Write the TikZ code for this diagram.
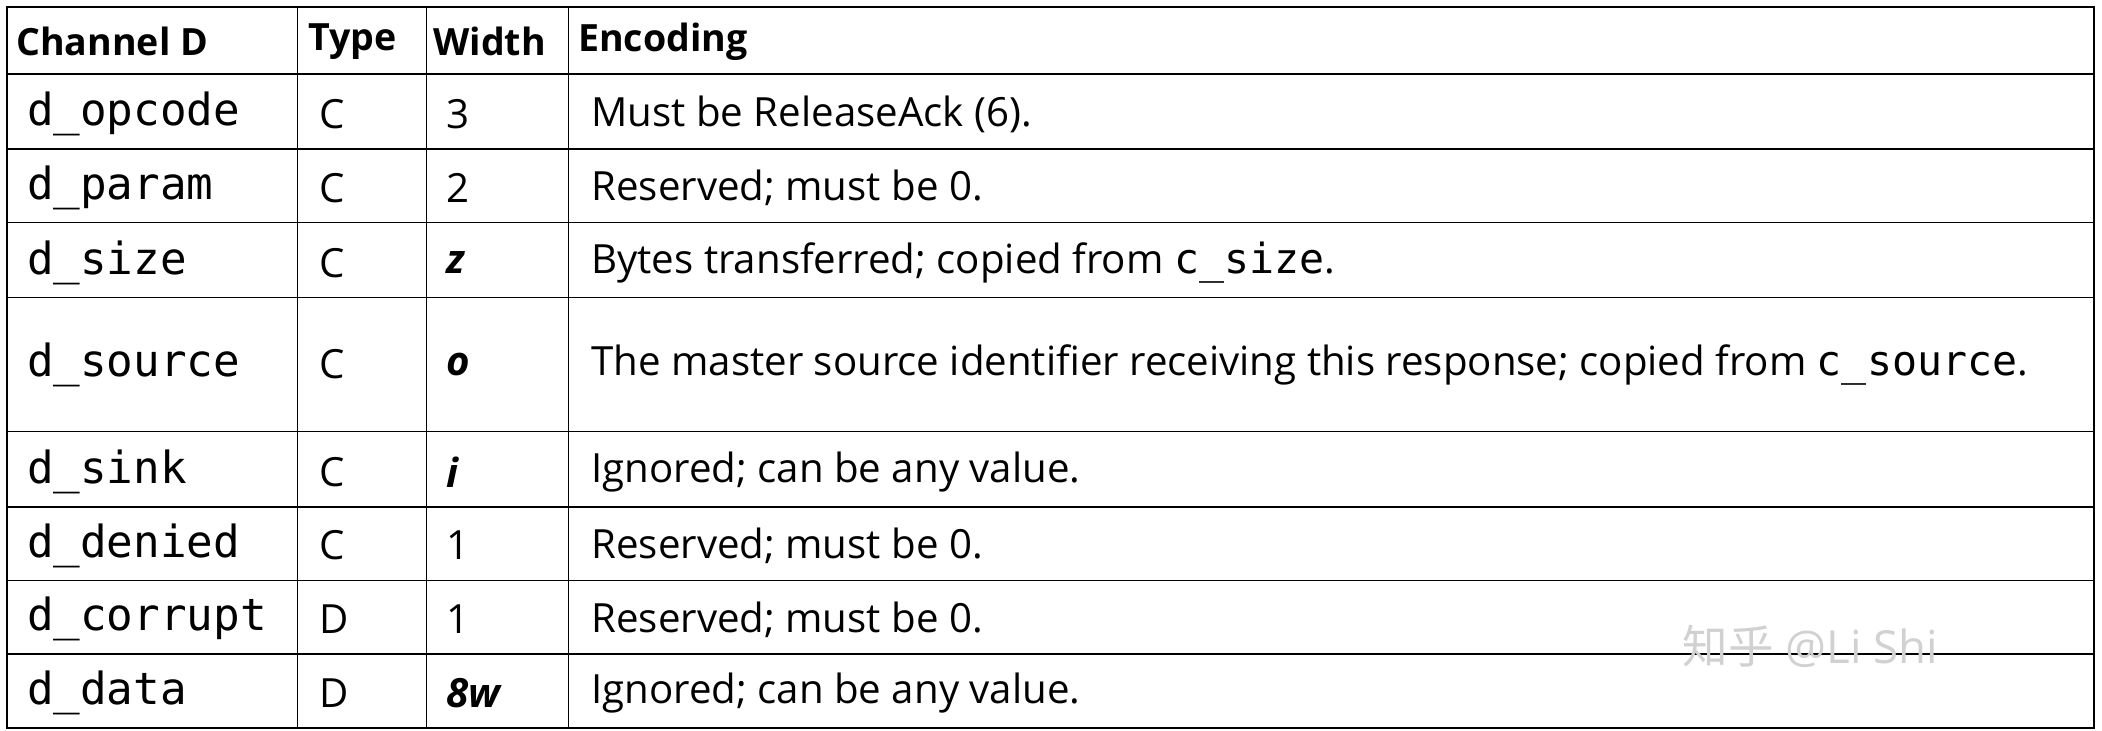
\documentclass[tikz,border=0pt]{standalone}
\usepackage{fontspec}
\setmainfont{Open Sans}
\setmonofont{DejaVu Sans Mono}
\newfontfamily\cjk{Noto Sans CJK SC}
\newcommand{\us}{\char95\relax}
\begin{document}
\begin{tikzpicture}[x=1pt,y=-1pt,
  cell/.style={anchor=west,inner sep=0pt,font=\fontsize{30}{42}\selectfont},
  hcell/.style={anchor=west,inner sep=0pt,font=\fontsize{28}{33}\selectfont\bfseries},
  mono/.style={anchor=west,inner sep=0pt,font=\fontsize{33}{35}\selectfont\ttfamily}]
\useasboundingbox (0,0) rectangle (1568,545);
\draw[line width=1.5pt] (5,5) rectangle (1562,543);
\foreach \x in {222,318,424} \draw[line width=1.2pt] (\x,5) -- (\x,543);
\foreach \y in {55,111,166,222,322,378,433,488} \draw[line width=1.2pt] (5,\y) -- (1562,\y);
\node[hcell] (h1) at (12,31) {Channel D};
\node[hcell] (h2) at (230,31) {Type};
\node[hcell] (h3) at (323,31) {Width};
\node[hcell] (h4) at (431,31) {Encoding};
\foreach \y/\n/\t/\w/\e [count=\i] in {
  85/d\us opcode/C/3/Must be ReleaseAck (6).,
  140/d\us param/C/2/Reserved; must be 0.,
  352/d\us sink/C/{\textit{\textbf{i}}}/Ignored; can be any value.,
  407/d\us denied/C/1/Reserved; must be 0.,
  462/d\us corrupt/D/1/Reserved; must be 0.,
  517/d\us data/D/{\textbf{\textit{8w}}}/Ignored; can be any value.} {
  \node[mono] (n\i) at (20,\y) {\n};
  \node[cell] (t\i) at (238,\y) {\t};
  \node[cell] (w\i) at (333,\y) {\w};
  \node[cell] (e\i) at (441,\y) {\e};
}
\node[mono] (ns) at (20,196) {d\us size};
\node[cell] (ts) at (238,196) {C};
\node[cell] (ws) at (333,196) {\textbf{\textit{z}}};
\node[cell] (es) at (441,196) {Bytes transferred; copied from {\ttfamily\fontsize{31}{33}\selectfont c\us size}.};
\node[mono] (no) at (20,272) {d\us source};
\node[cell] (to) at (238,272) {C};
\node[cell] (wo) at (333,272) {\textbf{\textit{o}}};
\node[cell,text width=1102pt,align=justify] (eo) at (441,272) {The master source identifier receiving this response; copied from {\ttfamily\fontsize{31}{33}\selectfont c\us source}.};
\node[anchor=west,inner sep=0pt,text=black!18,font=\fontsize{34}{40}\selectfont] (wm) at (1255,482) {{\cjk 知乎} @Li Shi};
\end{tikzpicture}
\end{document}
